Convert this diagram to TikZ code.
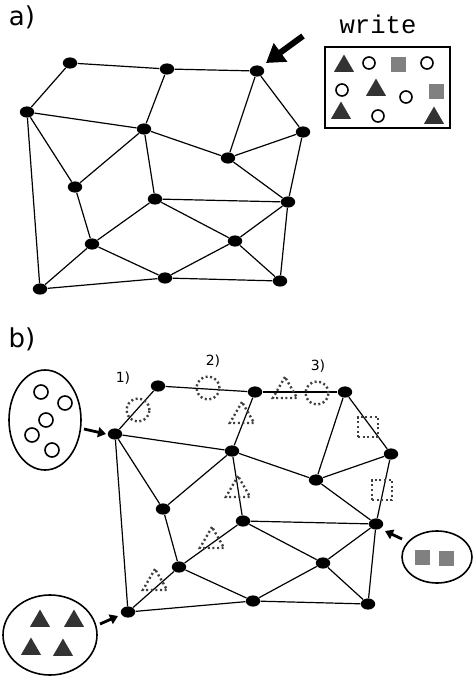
\documentclass[tikz,border=0pt]{standalone}
\usepackage{fontspec}
\setmainfont{DejaVu Sans}
\newfontfamily\monofont{Liberation Mono}
\usetikzlibrary{shapes.geometric,arrows.meta}
\definecolor{tridark}{HTML}{333333}
\definecolor{sqgray}{HTML}{808080}
\definecolor{dotgray}{HTML}{404040}
\begin{document}
\begin{tikzpicture}[x=0.5pt,y=-0.5pt,
  vtx/.style={ellipse,fill=black,inner sep=0,minimum width=7.2pt,minimum height=5.6pt},
  edge/.style={line width=0.6pt},
  tri/.style={regular polygon,regular polygon sides=3,fill=tridark,inner sep=0,minimum size=11.5pt},
  ring/.style={circle,draw=black,line width=0.8pt,inner sep=0,minimum size=6pt},
  sq/.style={rectangle,fill=sqgray,inner sep=0,minimum size=7.5pt},
  dots/.style={draw=dotgray,line width=1.2pt,dash pattern=on 1pt off 1.3pt},
  dcirc/.style={circle,dots,inner sep=0,minimum size=11.5pt},
  dtri/.style={regular polygon,regular polygon sides=3,dots,inner sep=0,minimum size=14pt},
  dsq/.style={rectangle,dots,inner sep=0,minimum size=10pt},
  bag/.style={ellipse,draw=black,line width=0.8pt,inner sep=0},
  bigarrow/.style={line width=3pt,-{Triangle[length=9pt,width=11pt]}},
  smallarrow/.style={line width=1.4pt,-{Triangle[length=4pt,width=5pt]}},
  lab/.style={font=\fontsize{13}{15}\selectfont},
  smlab/.style={font=\fontsize{7}{8}\selectfont}
]
\useasboundingbox (0,0) rectangle (474,680);

% ---------- a) ----------
\node[lab] (la) at (22,17) {a)};
\foreach \n/\x/\y in {1/70/63,2/167/69,3/257/71,4/27/112,5/144/129,6/303/132,7/228/158,8/75/187,9/155/199,10/288/202,11/92/244,12/235/241,13/40/289,14/165/278,15/280/281}
  \node[vtx] (a\n) at (\x,\y) {};
\foreach \p/\q in {1/2,2/3,1/4,2/5,3/7,3/6,4/5,4/8,4/13,5/8,5/7,5/9,7/6,7/10,6/10,9/10,9/11,9/12,8/11,11/13,11/14,13/14,14/12,14/15,12/10,12/15,10/15}
  \draw[edge] (a\p) -- (a\q);
\coordinate (arA0) at (303,36);
\coordinate (arA1) at (266,63);
\draw[bigarrow] (arA0) -- (arA1);

% write box
\node[font=\monofont\fontsize{12.8}{14}\selectfont] (wr) at (378,24) {write};
\node[draw=black,line width=0.8pt,minimum width=62.5pt,minimum height=40.5pt,inner sep=0] (wbox) at (387.5,87.5) {};
\node[tri] (w1) at (344,66) {};
\node[ring] (w2) at (369,63) {};
\node[sq] (w3) at (398,64) {};
\node[ring] (w4) at (427,63) {};
\node[ring] (w5) at (342,90) {};
\node[tri] (w6) at (376,90) {};
\node[ring] (w7) at (406,97) {};
\node[sq] (w8) at (436,91) {};
\node[tri] (w9) at (341,113) {};
\node[ring] (w10) at (378,116) {};
\node[tri] (w11) at (434,118) {};

% ---------- b) ----------
\node[lab] (lb) at (22,339) {b)};
\foreach \n/\x/\y in {1/158/386,2/255/392,3/345/392,4/115/434,5/232/451,6/391/454,7/316/480,8/163/509,9/243/521,10/376/524,11/179/567,12/323/563,13/128/612,14/253/601,15/368/604}
  \node[vtx] (b\n) at (\x,\y) {};
\foreach \p/\q in {1/2,2/3,1/4,2/5,3/7,3/6,4/5,4/8,4/13,5/8,5/7,5/9,7/6,7/10,6/10,9/10,9/11,9/12,8/11,11/13,11/14,13/14,14/12,14/15,12/10,12/15,10/15}
  \draw[edge] (b\p) -- (b\q);

% dotted shapes
\node[dcirc] (d1) at (138,410) {};
\node[dcirc] (d2) at (208,388) {};
\node[dtri] (d3) at (285,391) {};
\node[dcirc] (d4) at (317,393) {};
\node[dtri] (d5) at (242,416) {};
\node[dsq] (d6) at (368,427) {};
\node[dtri] (d7) at (238,490) {};
\node[dsq] (d8) at (382,490) {};
\node[dtri] (d9) at (212,541) {};
\node[dtri] (d10) at (155,583) {};
\node[smlab] (n1) at (123,378) {1)};
\node[smlab] (n2) at (213,361) {2)};
\node[smlab] (n3) at (318,366) {3)};

% bag of circles
\node[bag,minimum width=36pt,minimum height=50pt] (bagC) at (45,420) {};
\node[ring,minimum size=7pt] (c1) at (41,392) {};
\node[ring,minimum size=7pt] (c2) at (65,403) {};
\node[ring,minimum size=7pt] (c3) at (46,420) {};
\node[ring,minimum size=7pt] (c4) at (32,435) {};
\node[ring,minimum size=7pt] (c5) at (52,450) {};
\coordinate (arC0) at (84,429);
\coordinate (arC1) at (106,434);
\draw[smallarrow] (arC0) -- (arC1);

% bag of triangles
\node[bag,minimum width=47pt,minimum height=40pt] (bagT) at (50,635) {};
\node[tri] (t1) at (40,621) {};
\node[tri] (t2) at (74,621) {};
\node[tri] (t3) at (31,649) {};
\node[tri] (t4) at (63,650) {};
\coordinate (arT0) at (100,624);
\coordinate (arT1) at (118,616);
\draw[smallarrow] (arT0) -- (arT1);

% bag of squares
\node[bag,minimum width=35pt,minimum height=26pt] (bagS) at (437,557) {};
\node[sq] (s1) at (422,557) {};
\node[sq] (s2) at (446,558) {};
\coordinate (arS0) at (402,539);
\coordinate (arS1) at (385,531);
\draw[smallarrow] (arS0) -- (arS1);
\end{tikzpicture}
\end{document}
